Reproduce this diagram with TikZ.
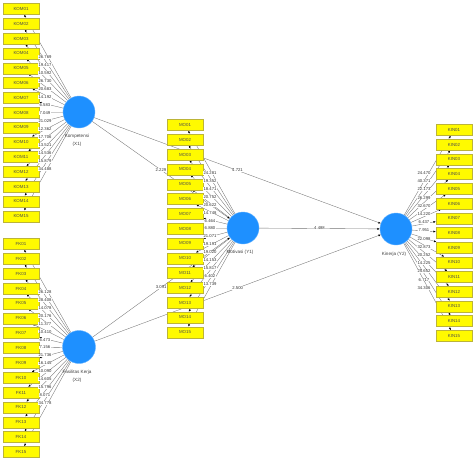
\documentclass[tikz,border=0pt]{standalone}
\usepackage{fontspec}
\setmainfont{Liberation Sans}
\usetikzlibrary{arrows.meta,backgrounds}
\definecolor{plsblue}{RGB}{30,144,255}
\definecolor{plsyellow}{RGB}{255,250,0}
\begin{document}
\begin{tikzpicture}[x=1pt,y=-1pt,
 ind/.style={draw=yellow!70!black, line width=0.3pt, fill=plsyellow, minimum width=36pt, minimum height=11pt, inner sep=0pt, font=\fontsize{4.4}{5}\selectfont, text=black!70},
 lv/.style={circle, fill=plsblue, draw=plsblue!70!white, line width=0.4pt, minimum size=32pt, inner sep=0pt},
 conn/.style={draw=black!55, line width=0.35pt, -{Latex[length=2.4pt,width=2pt,color=black]}},
 val/.style={font=\fontsize{4.2}{4.5}\selectfont, fill=white, inner sep=0.3pt, text=black!80},
 lvlab/.style={font=\fontsize{4.6}{8}\selectfont, text=black!75, align=center, inner sep=0pt}]
\useasboundingbox (0,0) rectangle (474,459);

% latent variables
\node[lv] (X1) at (79,112) {};
\node[lv, minimum size=33pt] (X2) at (79,347) {};
\node[lv] (Y1) at (243,228) {};
\node[lv] (Y2) at (396,229) {};

\node[lvlab] (X1l) at (77,140) {Kompetensi\\(X1)};
\node[lvlab] (X2l) at (77,376) {Fasilitas Kerja\\(X2)};
\node[lvlab] (Y1l) at (240,252) {Motivasi (Y1)};
\node[lvlab] (Y2l) at (394,254) {Kinerja (Y2)};

% indicators
\foreach \i in {1,...,15}{
  \node[ind] (KOM\i) at (21,{9+(\i-1)*14.8}) {KOM\ifnum\i<10 0\fi\i};
  \node[ind] (FK\i) at (21,{244+(\i-1)*14.85}) {FK\ifnum\i<10 0\fi\i};
  \node[ind] (MO\i) at (185,{125+(\i-1)*14.8}) {MO\ifnum\i<10 0\fi\i};
  \node[ind] (KIN\i) at (454,{130+(\i-1)*14.7}) {KIN\ifnum\i<10 0\fi\i};
}

\begin{scope}[on background layer]
\foreach \i in {1,...,15}{
  \draw[conn] (X1) -- (KOM\i);
  \draw[conn] (X2) -- (FK\i);
  \draw[conn] (Y1) -- (MO\i);
  \draw[conn] (Y2) -- (KIN\i);
}
\draw[conn] (X1) -- (Y1) node[val, pos=0.5] (p1) {2.229};
\draw[conn] (X1) -- (Y2) node[val, pos=0.5] (p2) {4.721};
\draw[conn] (X2) -- (Y1) node[val, pos=0.5] (p3) {3.091};
\draw[conn] (X2) -- (Y2) node[val, pos=0.5] (p4) {2.500};
\draw[conn] (Y1) -- (Y2) node[val, pos=0.5] (p5) {4.488};
\end{scope}

% outer loading t-values
\foreach \v [count=\i] in {26.769,19.417,10.592,26.730,20.683,14.192,6.583,7.049,21.029,12.362,17.706,13.521,14.536,15.879,34.488}
  \node[val] (kv\i) at (45,{57+(\i-1)*8}) {\v};
\foreach \v [count=\i] in {26.128,28.408,14.078,20.176,11.377,10.410,6.473,7.156,21.736,16.145,10.090,14.605,15.796,8.071,34.778}
  \node[val] (fv\i) at (45,{292+(\i-1)*7.93}) {\v};
\foreach \v [count=\i] in {24.281,19.352,18.471,20.752,20.622,14.748,6.464,6.880,21.071,19.191,19.020,14.153,15.817,6.402,13.739}
  \node[val] (mv\i) at (210,{173+(\i-1)*7.93}) {\v};
\foreach \v [count=\i] in {24.470,40.371,22.173,26.299,32.670,14.220,6.437,7.951,22.098,32.873,20.252,14.225,25.652,6.717,34.306}
  \node[val] (nv\i) at (424,{173+(\i-1)*8.2}) {\v};
\end{tikzpicture}
\end{document}
